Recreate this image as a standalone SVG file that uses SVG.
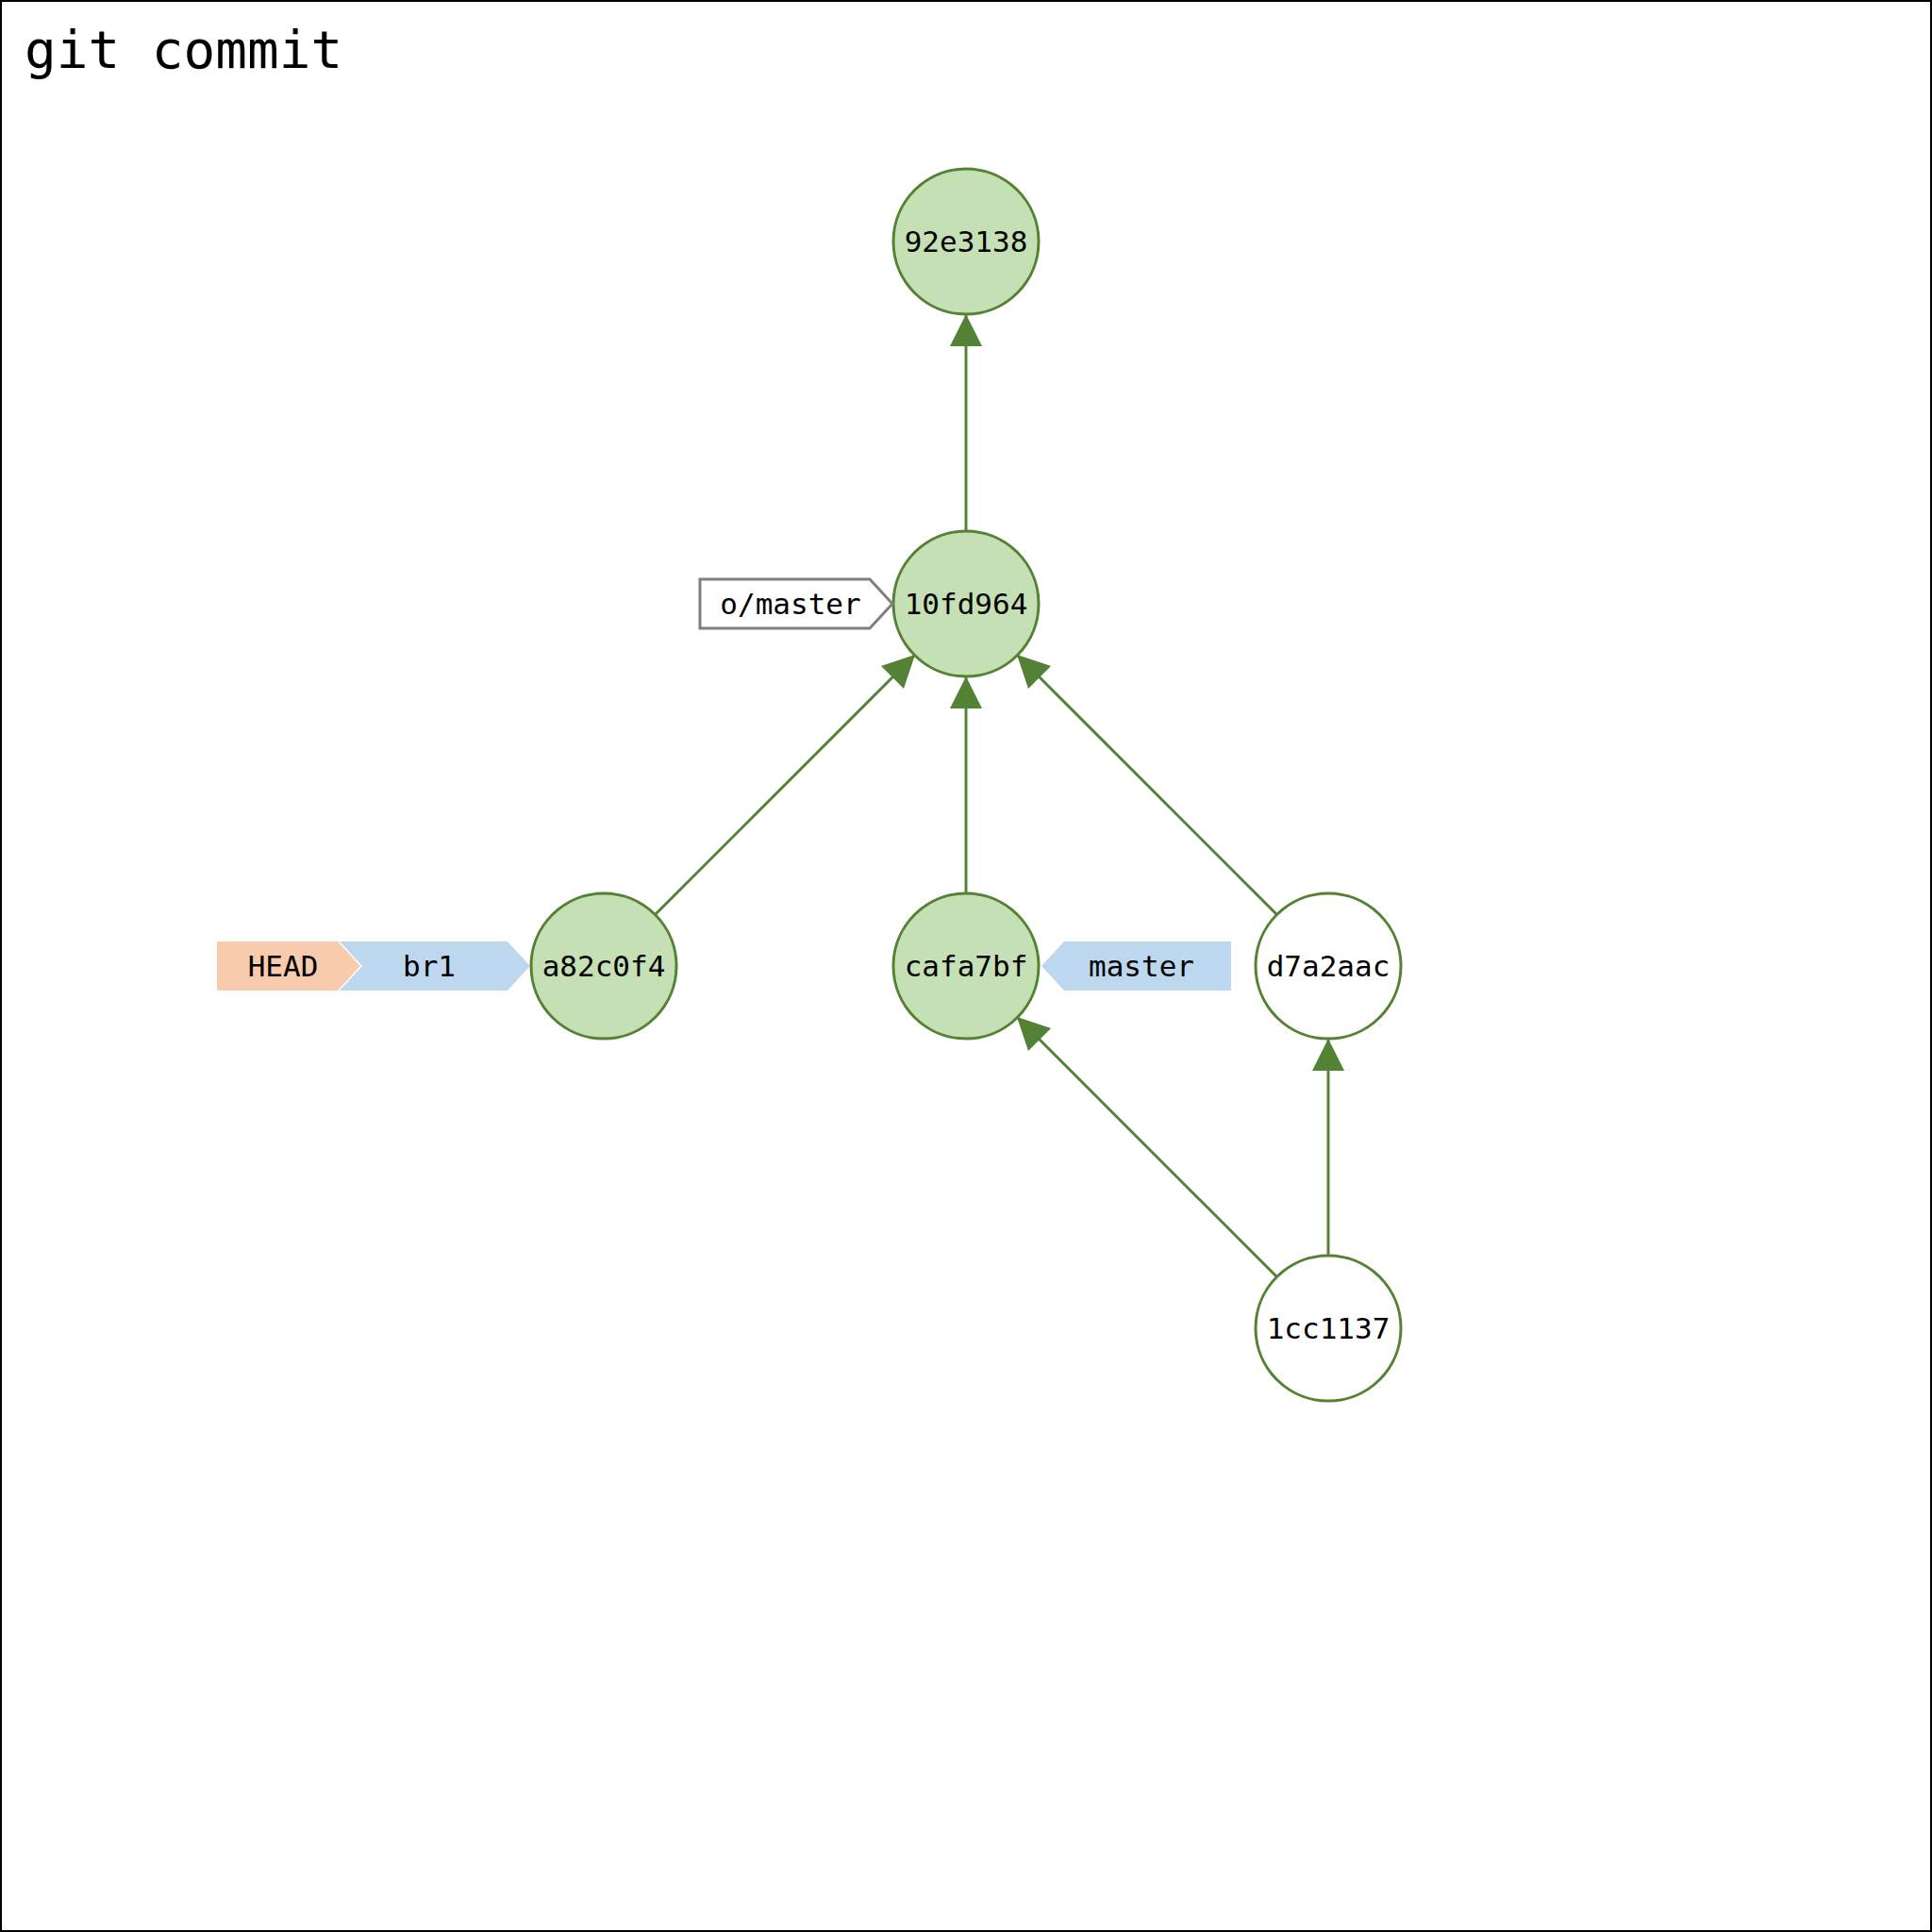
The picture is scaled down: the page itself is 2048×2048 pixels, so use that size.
<svg xmlns="http://www.w3.org/2000/svg" width="2048" height="2048" viewBox="0 0 2048 2048">
<style>
.c{stroke:#548235;stroke-width:3}
.g{fill:#c5e0b4}
.w{fill:#fff}
.t{font-family:"DejaVu Sans Mono",monospace;font-size:31px;text-anchor:middle;dominant-baseline:central;fill:#000}
.e{stroke:#548235;stroke-width:3;fill:none;marker-end:url(#a)}
</style>
<defs><marker id="a" markerUnits="userSpaceOnUse" markerWidth="36" markerHeight="36" refX="34" refY="17" orient="auto"><path d="M0,0 L34,17 L0,34 z" fill="#548235"/></marker></defs>
<rect x="1" y="1" width="2046" height="2046" fill="#fff" stroke="#000" stroke-width="2"/>
<text x="26" y="72" style="font-family:'DejaVu Sans Mono',monospace;font-size:56px">git commit</text>
<g id="connectors">
<line class="e" x1="1024" y1="563" x2="1024" y2="333"/>
<line class="e" x1="694" y1="970" x2="970" y2="694"/>
<line class="e" x1="1024" y1="947" x2="1024" y2="717"/>
<line class="e" x1="1354" y1="970" x2="1078" y2="694"/>
<line class="e" x1="1354" y1="1354" x2="1078" y2="1078"/>
<line class="e" x1="1408" y1="1331" x2="1408" y2="1101"/>
</g>
<g id="n92e3138"><circle class="c g" cx="1024" cy="256" r="77"/><text class="t" x="1024" y="256">92e3138</text></g>
<g id="n10fd964"><circle class="c g" cx="1024" cy="640" r="77"/><text class="t" x="1024" y="640">10fd964</text></g>
<g id="na82c0f4"><circle class="c g" cx="640" cy="1024" r="77"/><text class="t" x="640" y="1024">a82c0f4</text></g>
<g id="ncafa7bf"><circle class="c g" cx="1024" cy="1024" r="77"/><text class="t" x="1024" y="1024">cafa7bf</text></g>
<g id="nd7a2aac"><circle class="c w" cx="1408" cy="1024" r="77"/><text class="t" x="1408" y="1024">d7a2aac</text></g>
<g id="n1cc1137"><circle class="c w" cx="1408" cy="1408" r="77"/><text class="t" x="1408" y="1408">1cc1137</text></g>
<g id="omaster"><path d="M742,614 H922 L946,640 L922,666 H742 z" fill="#fff" stroke="#7f7f7f" stroke-width="3"/><text class="t" x="838" y="640">o/master</text></g>
<g id="br1"><path d="M360,998 H538 L562,1024 L538,1050 H360 L384,1024 z" fill="#bdd7ee"/><text class="t" x="455" y="1024">br1</text></g>
<g id="HEAD"><path d="M230,998 H358 L382,1024 L358,1050 H230 z" fill="#f8cbad"/><text class="t" x="300" y="1024">HEAD</text></g>
<g id="master"><path d="M1305,998 H1128 L1104,1024 L1128,1050 H1305 z" fill="#bdd7ee"/><text class="t" x="1210" y="1024">master</text></g>
</svg>
